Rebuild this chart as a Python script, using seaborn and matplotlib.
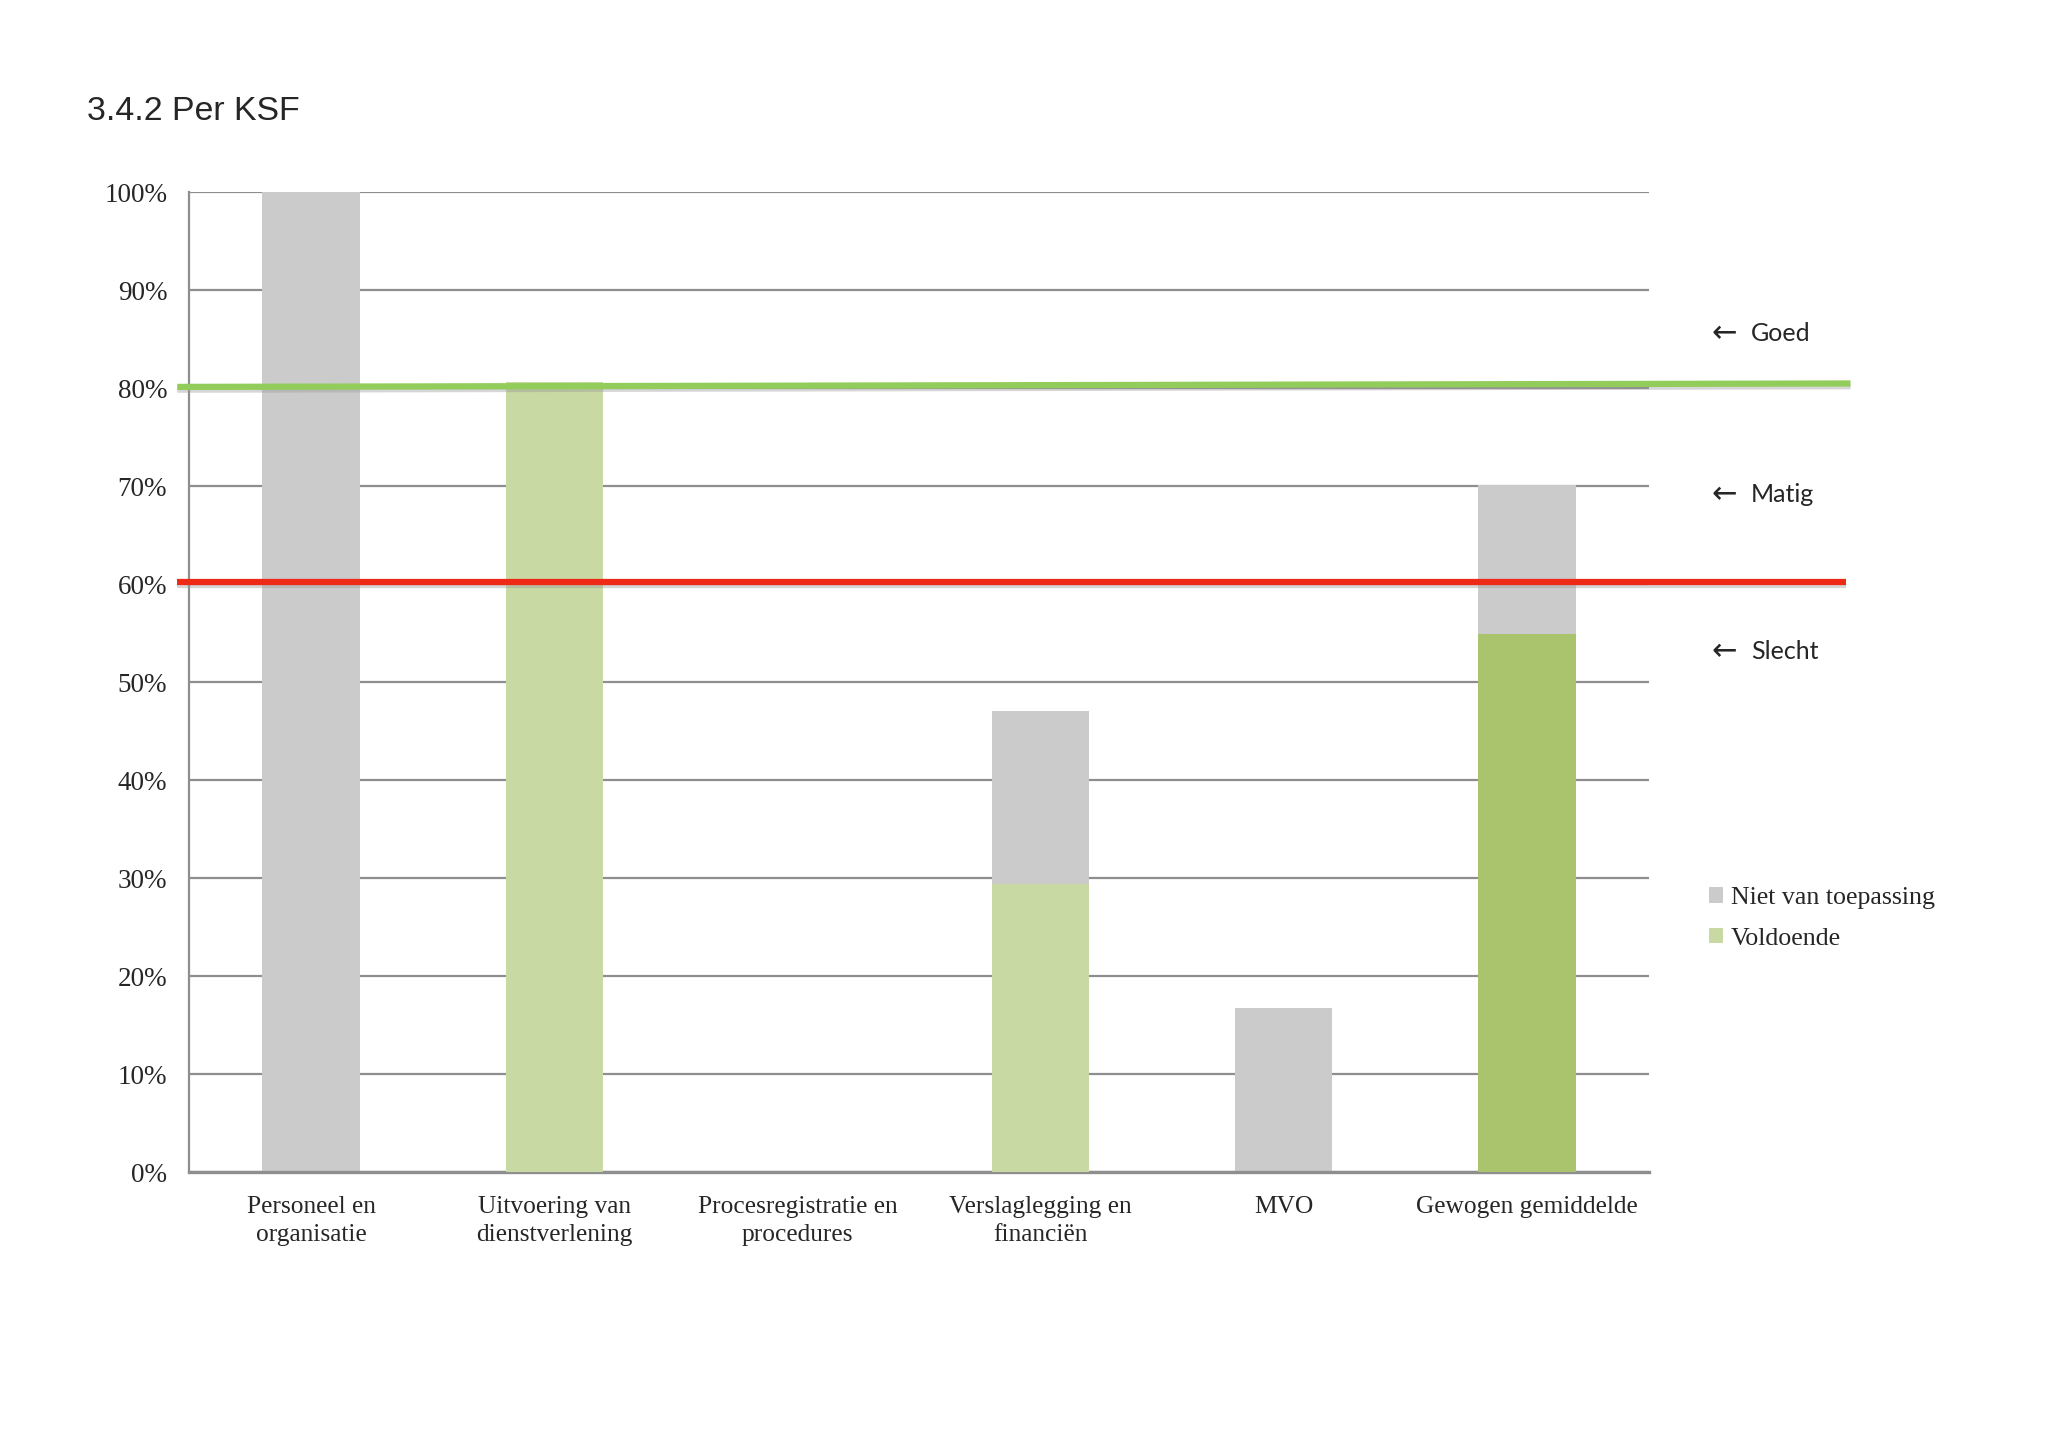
import numpy as np
import pandas as pd
import matplotlib
matplotlib.use("Agg")
import matplotlib.pyplot as plt
import matplotlib.patheffects as pe
from matplotlib.patches import Patch
import seaborn as sns

sns.set_theme(style="white")

# data
categories = ["Personeel en\norganisatie", "Uitvoering van\ndienstverlening",
              "Procesregistratie en\nprocedures", "Verslaglegging en\nfinanciën",
              "MVO", "Gewogen gemiddelde"]
voldoende = [0.0, 80.6, 0.0, 29.4, 0.0, 54.9]
niet_van_toepassing = [100.0, 0.0, 0.0, 17.7, 16.7, 15.2]
goed_grens = 80.3
slecht_grens = 60.2
zones = ["Goed", "Matig", "Slecht"]
zone_y = [85.6, 69.2, 53.1]
yticks = list(range(0, 101, 10))

GRAY = "#CBCBCB"
LIGHT_GREEN = "#C8D9A3"
DARK_GREEN = "#AAC46E"
serif = ["Liberation Serif", "DejaVu Serif"]
sans = ["Lato", "DejaVu Sans"]

df = pd.DataFrame({
    "categorie": categories,
    "voldoende": voldoende,
    "totaal": np.array(voldoende) + np.array(niet_van_toepassing),
})

fig = plt.figure(figsize=(20.48, 14.47), dpi=100)
ax = fig.add_axes([0.0925, 0.190, 0.7125, 0.677])

# grey = total, green stacked at the bottom
sns.barplot(data=df, x="categorie", y="totaal", color=GRAY, width=0.4,
            saturation=1, ax=ax, zorder=2)
green_cols = [LIGHT_GREEN] * 5 + [DARK_GREEN]
sns.barplot(data=df, x="categorie", y="voldoende", hue="categorie",
            palette=green_cols, width=0.4, saturation=1, legend=False,
            ax=ax, zorder=3)
for p in ax.patches:
    p.set_edgecolor("none")

ax.set_xlim(-0.5, 5.5)
ax.set_ylim(0, 100)
ax.set_yticks(yticks)
ax.set_yticklabels([f"{v}%" for v in yticks], fontfamily=serif, fontsize=19.5)
ax.set_xticks(range(len(categories)))
ax.set_xticklabels(categories, fontfamily=serif, fontsize=18.3, linespacing=1.4)
ax.tick_params(axis="y", length=0, pad=16)
ax.tick_params(axis="x", length=0, pad=17)
ax.set_xlabel("")
ax.set_ylabel("")
ax.grid(axis="y", color="#8E8E8E", linewidth=1.6, zorder=1)
ax.set_axisbelow(True)
for s in ["top", "right"]:
    ax.spines[s].set_visible(False)
ax.spines["left"].set_color("#8E8E8E")
ax.spines["left"].set_linewidth(1.6)
ax.spines["bottom"].set_color("#8E8E8E")
ax.spines["bottom"].set_linewidth(2.4)

# threshold lines, extending past the plot area
shadow = [pe.SimpleLineShadow(offset=(0, -2), shadow_color="#999999", alpha=0.4), pe.Normal()]
ax.plot([-0.55, 6.33], [goed_grens - 0.15, goed_grens + 0.2], color="#92CD5B",
        linewidth=4.5, solid_capstyle="butt", clip_on=False, zorder=5, path_effects=shadow)
ax.plot([-0.55, 6.31], [slecht_grens, slecht_grens], color="#EE2A17",
        linewidth=4.5, solid_capstyle="butt", clip_on=False, zorder=5, path_effects=shadow)

for name, y in zip(zones, zone_y):
    ax.text(5.76, y, "\u2190", fontsize=22, fontfamily=["DejaVu Sans"],
            va="center", ha="left", clip_on=False)
    ax.text(5.92, y, name, fontsize=18, fontfamily=sans, va="center",
            ha="left", clip_on=False)

handles = [Patch(facecolor=GRAY, edgecolor="none", label="Niet van toepassing"),
           Patch(facecolor=LIGHT_GREEN, edgecolor="none", label="Voldoende")]
leg = fig.legend(handles=handles, loc="upper left", bbox_to_anchor=(0.823, 0.403),
                 frameon=False, handlelength=0.55, handleheight=0.55,
                 handletextpad=0.3, labelspacing=0.72,
                 prop={"family": serif, "size": 18.6})

fig.text(0.0427, 0.917, "3.4.2 Per KSF", fontsize=24.4,
         fontfamily=["Liberation Sans", "DejaVu Sans"], ha="left", va="baseline")

fig.savefig("out.png", dpi=100, facecolor="white")
